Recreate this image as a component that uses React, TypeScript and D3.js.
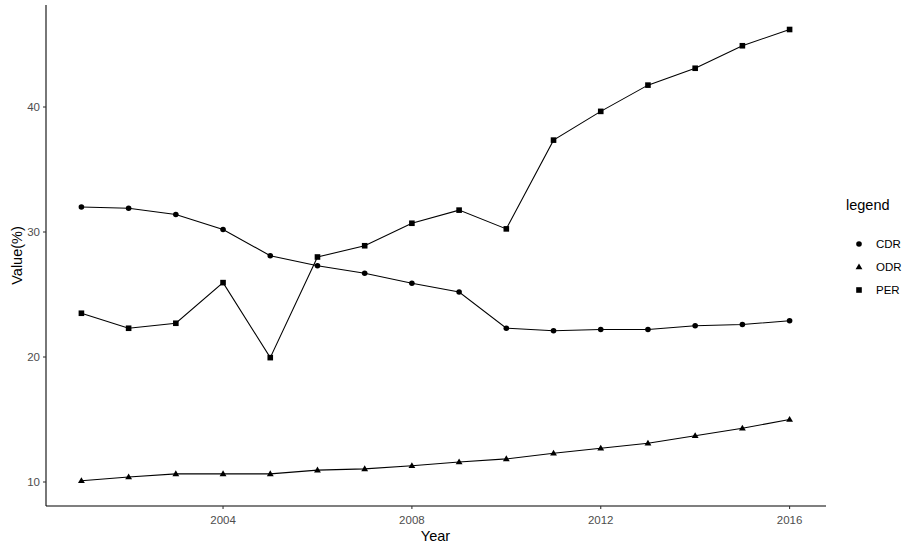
import React from "react";
import * as d3 from "d3";

const years = [2001, 2002, 2003, 2004, 2005, 2006, 2007, 2008, 2009, 2010, 2011, 2012, 2013, 2014, 2015, 2016];
const cdr = [32.0, 31.9, 31.4, 30.2, 28.1, 27.3, 26.7, 25.9, 25.2, 22.3, 22.1, 22.2, 22.2, 22.5, 22.6, 22.9];
const odr = [10.1, 10.4, 10.65, 10.65, 10.65, 10.95, 11.05, 11.3, 11.6, 11.85, 12.3, 12.7, 13.1, 13.7, 14.3, 15.0];
const per = [23.5, 22.3, 22.7, 25.95, 19.95, 28.0, 28.9, 30.7, 31.75, 30.25, 37.35, 39.65, 41.75, 43.1, 44.9, 46.2];
const seriesNames = ["CDR", "ODR", "PER"];
const xTicks = [2004, 2008, 2012, 2016];
const yTicks = [10, 20, 30, 40];

const W = 919, H = 550;
const left = 46, right = 825, top = 5, bottom = 506;

function Marker({ kind, x, y }: { kind: string; x: number; y: number }) {
  if (kind === "CDR") return <circle cx={x} cy={y} r={2.8} fill="black" />;
  if (kind === "ODR") {
    const s = 3.6;
    return <path d={`M${x},${y - s} L${x + s * 0.95},${y + s * 0.65} L${x - s * 0.95},${y + s * 0.65} Z`} fill="black" />;
  }
  return <rect x={x - 2.8} y={y - 2.8} width={5.6} height={5.6} fill="black" />;
}

export default function App() {
  const x = d3.scaleLinear().domain([2000.25, 2016.75]).range([left, right]);
  const y = d3.scaleLinear().domain([8.08, 48.16]).range([bottom, top]);
  const data: Record<string, number[]> = { CDR: cdr, ODR: odr, PER: per };
  const line = d3.line<number>().x((_, i) => x(years[i])).y((v) => y(v));
  const font = "Arial, 'Liberation Sans', sans-serif";
  return (
    <svg width={W} height={H} style={{ position: "absolute", left: 0, top: 0, fontFamily: font }}>
      <rect width={W} height={H} fill="white" />
      {seriesNames.map((n) => (
        <path key={n} d={line(data[n]) || ""} fill="none" stroke="black" strokeWidth={1.07} />
      ))}
      {seriesNames.map((n) =>
        data[n].map((v, i) => <Marker key={n + i} kind={n} x={x(years[i])} y={y(v)} />)
      )}
      <line x1={left} x2={left} y1={top} y2={bottom} stroke="black" strokeWidth={1.07} />
      <line x1={left} x2={right + 1} y1={bottom} y2={bottom} stroke="black" strokeWidth={1.07} />
      {yTicks.map((t) => (
        <g key={t}>
          <line x1={left - 3} x2={left} y1={y(t)} y2={y(t)} stroke="#333" strokeWidth={1.07} />
          <text x={left - 6} y={y(t)} dy="0.35em" textAnchor="end" fontSize={11.5} fill="#4D4D4D">{t}</text>
        </g>
      ))}
      {xTicks.map((t) => (
        <g key={t}>
          <line x1={x(t)} x2={x(t)} y1={bottom} y2={bottom + 3} stroke="#333" strokeWidth={1.07} />
          <text x={x(t)} y={bottom + 18} textAnchor="middle" fontSize={11.5} fill="#4D4D4D">{t}</text>
        </g>
      ))}
      <text x={(left + right) / 2} y={541} textAnchor="middle" fontSize={14.5} fill="black">Year</text>
      <text transform={`translate(22,${(top + bottom) / 2}) rotate(-90)`} textAnchor="middle" fontSize={14.5} fill="black">Value(%)</text>
      <text x={846} y={210} fontSize={14.5} fill="black">legend</text>
      {seriesNames.map((n, i) => (
        <g key={n}>
          <Marker kind={n} x={859} y={244 + i * 23} />
          <text x={876} y={244 + i * 23} dy="0.35em" fontSize={11.5} fill="black">{n}</text>
        </g>
      ))}
    </svg>
  );
}
